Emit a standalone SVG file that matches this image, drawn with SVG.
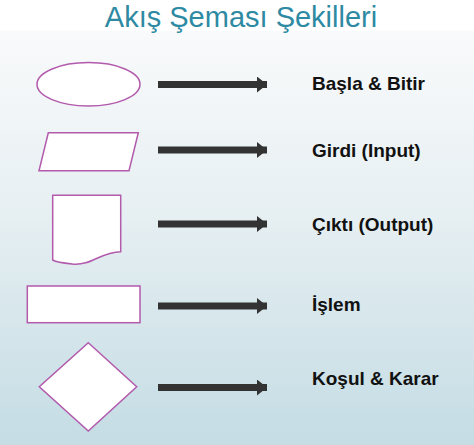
<svg xmlns="http://www.w3.org/2000/svg" width="474" height="445" viewBox="0 0 474 445">
<defs>
<linearGradient id="bg" x1="0" y1="0" x2="0" y2="1">
<stop offset="0" stop-color="#f9fafb"/>
<stop offset="0.45" stop-color="#e6eff2"/>
<stop offset="1" stop-color="#c4dce4"/>
</linearGradient>
<marker id="ah" viewBox="0 0 10 16" refX="10" refY="8" markerWidth="10" markerHeight="16" markerUnits="userSpaceOnUse" orient="auto">
<path d="M0,0 L10,8 L0,16 Z" fill="#333333"/>
</marker>
</defs>
<style>
.shape{fill:#ffffff;stroke:#b25aac;stroke-width:1.5}
.conn{stroke:#333333;stroke-width:7;fill:none;marker-end:url(#ah)}
.lbl{font-family:"Liberation Sans",Arial,sans-serif;font-weight:bold;font-size:19px;fill:#111111}
.title{font-family:"Liberation Sans",Arial,sans-serif;font-size:29px;fill:#2e8aa2}
</style>
<rect x="0" y="0" width="474" height="445" fill="#ffffff"/>
<rect x="0" y="31" width="474" height="414" fill="url(#bg)"/>
<text class="title" x="241" y="27" text-anchor="middle">Akış Şeması Şekilleri</text>
<g id="connectors">
<line class="conn" x1="158" y1="84.5" x2="267" y2="84.5"/>
<line class="conn" x1="158" y1="150" x2="267" y2="150"/>
<line class="conn" x1="158" y1="224" x2="267" y2="224"/>
<line class="conn" x1="158" y1="306" x2="267" y2="306"/>
<line class="conn" x1="158" y1="387.5" x2="267" y2="387.5"/>
</g>
<g id="n-start"><ellipse class="shape" cx="88.5" cy="84.3" rx="51.5" ry="21.7"/></g>
<g id="n-input"><polygon class="shape" points="48.3,132.7 138.3,132.7 129,170.7 39,170.7"/></g>
<g id="n-output"><path class="shape" d="M52.7,195.3 H120.7 V251.7 C100,252 92,266 72,264 C62,263 56,262 52.7,260 Z"/></g>
<g id="n-process"><rect class="shape" x="27.3" y="286" width="112.7" height="36.7"/></g>
<g id="n-decision"><polygon class="shape" points="88.3,342.7 136.7,386.7 88.3,431 39.3,386.7"/></g>
<g id="l-start"><text class="lbl" x="312" y="90">Başla &amp; Bitir</text></g>
<g id="l-input"><text class="lbl" x="312" y="157">Girdi (Input)</text></g>
<g id="l-output"><text class="lbl" x="312" y="231">Çıktı (Output)</text></g>
<g id="l-process"><text class="lbl" x="312" y="311">İşlem</text></g>
<g id="l-decision"><text class="lbl" x="312" y="385">Koşul &amp; Karar</text></g>
</svg>
